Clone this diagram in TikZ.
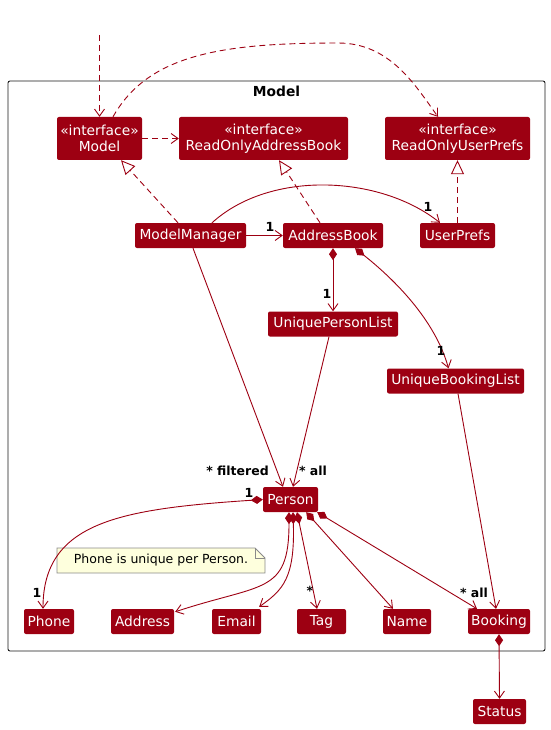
\documentclass[tikz,border=0pt]{standalone}
\usepackage{fontspec}
\setmainfont{DejaVu Sans}
\usetikzlibrary{arrows.meta,calc}
\definecolor{mred}{HTML}{9D0012}
\definecolor{notefill}{HTML}{FEFFDD}
\definecolor{noteline}{HTML}{8A8A8A}
\definecolor{frameline}{HTML}{181818}
\newcommand\mdlBoxFont{\fontsize{13.8}{16}\selectfont}
\newcommand\mdlLabFont{\fontsize{12.5}{14}\selectfont\bfseries}
\newcommand\mdlNoteFont{\fontsize{12.5}{14}\selectfont}
\tikzset{
  cls/.style={fill=mred, text=white, rounded corners=2pt, inner sep=0pt,
    minimum height=25pt, font=\mdlBoxFont},
  iface/.style={cls, minimum height=43pt, align=center},
  lab/.style={font=\mdlLabFont, text=black, inner sep=0pt},
  conn/.style={draw=mred, line width=0.9pt},
  dashline/.style={conn, dash pattern=on 6pt off 4pt},
  arr/.style={-{Straight Barb[length=7pt,width=10pt]}},
  comp/.style={{Diamond[length=12pt,width=8pt]}-{Straight Barb[length=7pt,width=10pt]}},
  real/.style={dashline, -{Triangle[open,length=14pt,width=13pt,fill=white]}},
}
\begin{document}
\begin{tikzpicture}[x=1pt,y=-1pt]
\useasboundingbox (0,0) rectangle (550,730);
% package frame
\node[draw=frameline, line width=0.9pt, rounded corners=2pt, minimum width=537pt,
  minimum height=570pt, inner sep=0pt] (pkg) at (276.5,366) {};
\node[font=\mdlBoxFont\bfseries, inner sep=0pt] (pkgtitle) at (276.5,91) {Model};

% classes
\node[iface, minimum width=85pt] (model) at (99.5,138.5) {«interface»\\Model};
\node[iface, minimum width=169pt] (roab) at (263.5,138.5) {«interface»\\ReadOnlyAddressBook};
\node[iface, minimum width=145pt] (roup) at (457.5,138.5) {«interface»\\ReadOnlyUserPrefs};
\node[cls, minimum width=111pt] (mm) at (190.5,235.5) {ModelManager};
\node[cls, minimum width=100pt] (ab) at (333,235.5) {AddressBook};
\node[cls, minimum width=75pt] (up) at (457.5,235.5) {UserPrefs};
\node[cls, minimum width=130pt] (upl) at (333,324) {UniquePersonList};
\node[cls, minimum width=137pt] (ubl) at (455.5,381) {UniqueBookingList};
\node[cls, minimum width=55pt] (person) at (290.5,499.5) {Person};
\node[cls, minimum width=50pt] (phone) at (49,621.5) {Phone};
\node[cls, minimum width=63pt] (address) at (142.5,621.5) {Address};
\node[cls, minimum width=49pt] (email) at (236.5,621.5) {Email};
\node[cls, minimum width=49pt] (tag) at (321.5,621.5) {Tag};
\node[cls, minimum width=48pt] (name) at (407,621.5) {Name};
\node[cls, minimum width=62pt] (booking) at (499,621.5) {Booking};
\node[cls, minimum width=53pt] (status) at (499.5,711.5) {Status};

% note
\coordinate (notecenter) at (161,560.5);
\filldraw[fill=notefill, draw=noteline, line width=0.8pt]
  ($(notecenter)+(-104,12.5)$) -- ($(notecenter)+(-104,-12.5)$) -- ($(notecenter)+(94,-12.5)$)
  -- ($(notecenter)+(104,-2.5)$) -- ($(notecenter)+(104,12.5)$) -- cycle;
\draw[draw=noteline, line width=0.8pt] ($(notecenter)+(94,-12.5)$) -- ($(notecenter)+(94,-2.5)$) -- ($(notecenter)+(104,-2.5)$);
\node[font=\mdlNoteFont, inner sep=0pt] (note) at (notecenter) {Phone is unique per Person.};

% top incoming dashed arrow
\coordinate (topfree) at (99.5,35);
\draw[dashline, arr] (topfree) -- (model.north);
% Model -> ReadOnlyUserPrefs
\draw[dashline, arr] ($(model.north)+(13.5,0)$) .. controls (148,55) and (220,43) .. (338,43)
  .. controls (390,43) and (415,85) .. ($(roup.north)+(-19.5,0)$);
% Model -> ReadOnlyAddressBook
\draw[dashline, arr] (model.east) -- (roab.west);
% realizations
\draw[real] ($(mm.north)+(-12.5,0)$) -- ($(model.south)+(21.5,0)$);
\draw[real] ($(ab.north)+(-13,0)$) -- ($(roab.south)+(15.5,0)$);
\draw[real] (up.north) -- (roup.south);
% ModelManager associations
\draw[conn, arr] (mm.east) -- (ab.west);
\draw[conn, arr] ($(mm.north)+(21.5,0)$) .. controls (270,170) and (380,175) .. ($(up.north)+(-17.5,0)$);
\draw[conn, arr] ($(mm.south)+(2.5,0)$) -- ($(person.north)+(-7.5,0)$);
% AddressBook compositions
\draw[conn, comp] (ab.south) -- (upl.north);
\draw[conn, comp] ($(ab.south)+(22,0)$) .. controls (395,280) and (435,320) .. ($(ubl.north)+(-7,0)$);
% lists
\draw[conn, arr] ($(upl.south)+(-4,0)$) -- ($(person.north)+(2.5,0)$);
\draw[conn, arr] ($(ubl.south)+(2.5,0)$) -- ($(booking.north)+(-3,0)$);
% Person compositions
\draw[conn, comp] (person.west) .. controls (120,509) and (43,522) .. ($(phone.north)+(-6,0)$);
\draw[conn, comp] ($(person.south)+(-1.5,0)$) .. controls (289,595) and (262,583) .. ($(address.north east)+(1,3)$);
\draw[conn, comp] ($(person.south)+(2.5,0)$) .. controls (295,578) and (283,590) .. ($(email.north east)+(-2,-2)$);
\draw[conn, comp] ($(person.south)+(6.5,0)$) -- ($(tag.north)+(-4.5,0)$);
\draw[conn, comp] ($(person.south east)+(-12,0)$) -- ($(name.north)+(-14,0)$);
\draw[conn, comp] ($(person.south east)+(-1,0)$) -- ($(booking.north)+(-22,0)$);
% Booking -> Status
\draw[conn, comp] (booking.south) -- (status.north);

% labels
\node[lab] (l1) at (270,227) {1};
\node[lab] (l2) at (428,207) {1};
\node[lab] (l3) at (327,294) {1};
\node[lab] (l4) at (441,351) {1};
\node[lab] (l5) at (237.5,470.5) {* filtered};
\node[lab] (l6) at (313,470.5) {* all};
\node[lab] (l7) at (249,493) {1};
\node[lab] (l8) at (37,593) {1};
\node[lab] (l9) at (310,591) {*};
\node[lab] (l10) at (474,593) {* all};
\end{tikzpicture}
\end{document}
